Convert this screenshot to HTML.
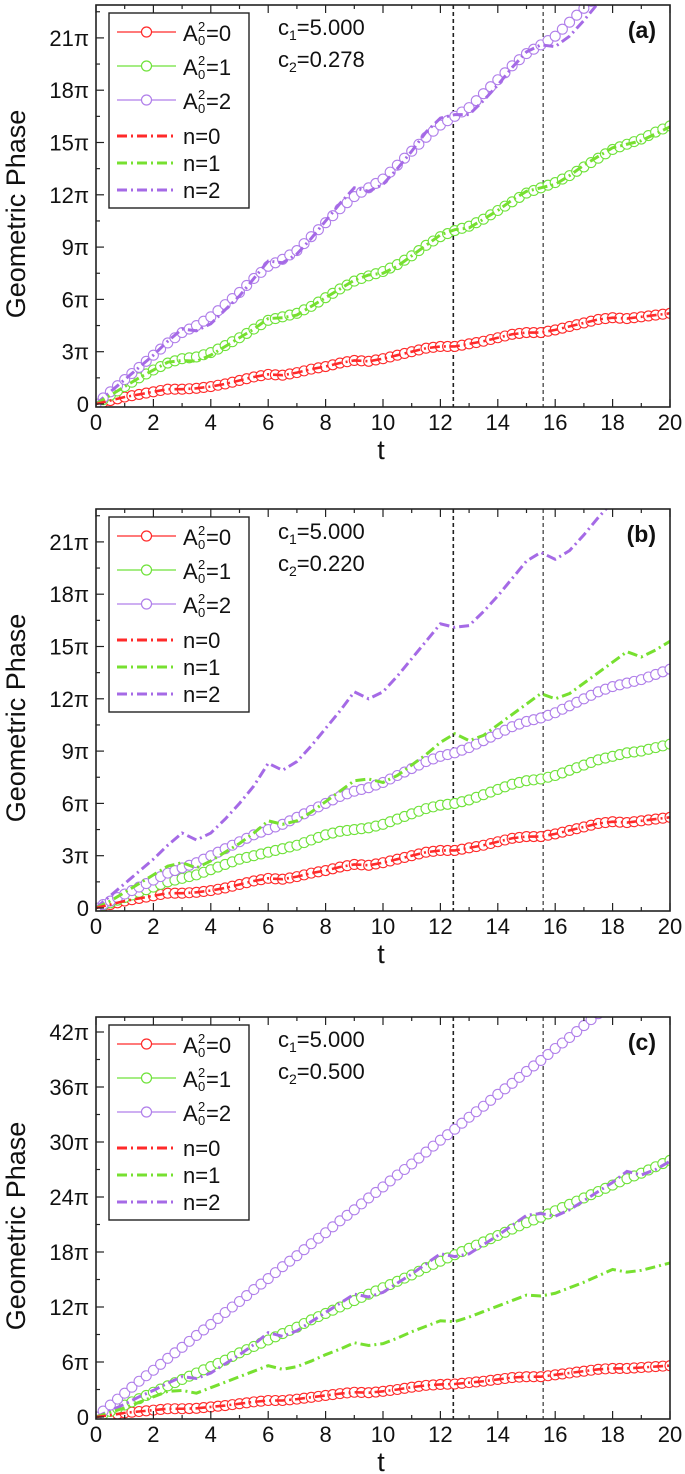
<!DOCTYPE html>
<html><head><meta charset="utf-8">
<style>
html,body{margin:0;padding:0;background:#fff;}
svg{display:block;font-family:"Liberation Sans",Arial,sans-serif;}
</style></head>
<body>
<svg id="fig" width="685" height="1474" viewBox="0 0 685 1474" xmlns="http://www.w3.org/2000/svg"></svg>
<script>
// ---- data (units of pi), sampled at t = 0, 0.5, ..., 20 ----
const tValues = [];
for (let i = 0; i <= 40; i++) tValues.push(i / 2);
const xTickLabels = ["0","2","4","6","8","10","12","14","16","18","20"];
const xTickValues = [0,2,4,6,8,10,12,14,16,18,20];
const vLines = [12.45, 15.58];

const aRed = [0,0.2,0.4,0.55,0.7,0.85,0.85,0.9,1.0,1.15,1.35,1.55,1.7,1.65,1.8,2.0,2.15,2.35,2.5,2.45,2.6,2.8,3.0,3.2,3.3,3.3,3.45,3.6,3.8,4.0,4.1,4.1,4.25,4.45,4.65,4.85,4.95,4.9,5.0,5.1,5.2];
const aA1 = [0,0.5,1.0,1.5,1.95,2.35,2.6,2.7,2.95,3.35,3.8,4.3,4.8,5.0,5.2,5.6,6.1,6.6,7.05,7.35,7.6,8.0,8.5,9.1,9.6,9.95,10.2,10.6,11.1,11.6,12.1,12.4,12.7,13.1,13.6,14.1,14.6,14.9,15.2,15.6,15.95];
const aN1 = [0,0.5,1.0,1.5,1.95,2.4,2.5,2.45,2.8,3.3,3.8,4.3,4.9,4.95,5.1,5.6,6.1,6.6,7.1,7.4,7.5,7.9,8.5,9.1,9.7,10.0,10.1,10.6,11.1,11.7,12.2,12.4,12.6,13.1,13.7,14.2,14.7,14.9,15.1,15.5,15.9];
const aA2 = [0,0.7,1.4,2.1,2.8,3.5,4.1,4.5,5.0,5.7,6.4,7.2,7.9,8.3,8.8,9.6,10.4,11.2,11.9,12.4,12.9,13.7,14.5,15.3,16.0,16.5,17.0,17.8,18.6,19.4,20.1,20.6,21.1,21.9,22.7,23.5,24.3,25.1,25.9,26.7,27.5];
const aN2 = [0,0.7,1.4,2.1,2.8,3.6,4.3,4.2,4.6,5.4,6.2,7.2,8.2,8.1,8.6,9.5,10.5,11.5,12.4,12.2,12.6,13.5,14.5,15.6,16.4,16.6,16.6,17.4,18.3,19.3,20.2,20.6,20.5,21.1,22.0,23.0,24.0,25.0,26.0,27.0,28.0];

const bRed = aRed;
const bA1 = [0,0.3,0.6,0.9,1.2,1.5,1.7,1.9,2.2,2.5,2.8,3.0,3.2,3.4,3.6,3.9,4.2,4.4,4.5,4.6,4.8,5.1,5.4,5.7,5.9,6.0,6.2,6.5,6.8,7.1,7.3,7.4,7.6,7.9,8.2,8.5,8.7,8.9,9.0,9.2,9.4];
const bN1 = [0,0.4,0.9,1.4,1.9,2.4,2.6,2.3,2.7,3.2,3.7,4.3,5.0,4.8,5.0,5.5,6.1,6.7,7.3,7.4,7.2,7.6,8.2,8.8,9.5,10.0,9.6,9.9,10.5,11.1,11.7,12.3,12.0,12.3,12.9,13.5,14.1,14.7,14.4,14.8,15.3];
const bA2 = [0,0.4,0.8,1.2,1.6,2.0,2.3,2.6,3.0,3.4,3.8,4.2,4.5,4.8,5.2,5.6,6.0,6.4,6.7,6.9,7.2,7.6,8.0,8.4,8.7,8.9,9.2,9.6,10.0,10.4,10.7,10.9,11.2,11.6,12.0,12.4,12.7,12.9,13.1,13.4,13.7];
const bN2 = [0,0.7,1.4,2.1,2.8,3.6,4.3,3.9,4.3,5.1,6.0,7.0,8.3,7.9,8.4,9.3,10.3,11.3,12.4,12.0,12.4,13.3,14.3,15.3,16.3,16.1,16.2,17.0,17.9,18.9,19.9,20.4,20.0,20.5,21.4,22.4,23.3,24.2,25.0,25.8,26.5];

const cRed = [0,0.2,0.45,0.6,0.75,0.9,0.9,0.95,1.1,1.25,1.45,1.65,1.8,1.8,1.95,2.15,2.35,2.55,2.7,2.65,2.8,3.0,3.25,3.45,3.55,3.6,3.75,3.9,4.1,4.3,4.4,4.4,4.6,4.8,5.0,5.2,5.3,5.3,5.4,5.5,5.6];
const cA1 = [0,0.6,1.3,2.0,2.7,3.4,4.1,4.8,5.5,6.2,7.0,7.7,8.4,9.1,9.8,10.6,11.3,12.0,12.7,13.4,14.1,14.8,15.5,16.3,17.0,17.7,18.4,19.1,19.8,20.5,21.2,21.8,22.5,23.2,23.9,24.6,25.3,26.0,26.6,27.3,28.0];
const cN1 = [0,0.5,1.0,1.6,2.2,2.8,2.9,2.6,3.2,3.8,4.4,5.0,5.6,5.2,5.5,6.1,6.8,7.4,8.1,7.8,8.0,8.6,9.3,9.9,10.5,10.4,10.9,11.5,12.1,12.7,13.3,13.2,13.5,14.1,14.7,15.4,16.1,15.8,16.0,16.4,16.8];
const cA2 = [0,1.3,2.6,3.9,5.1,6.4,7.6,8.9,10.1,11.4,12.6,13.9,15.1,16.4,17.6,18.9,20.1,21.4,22.6,23.9,25.1,26.4,27.6,28.9,30.2,31.4,32.7,33.9,35.2,36.4,37.7,38.9,40.2,41.4,42.7,44.0,45.2,46.5,47.7,49.0,50.2];
const cN2 = [0,0.7,1.4,2.2,2.9,3.7,4.4,4.2,4.8,5.8,6.8,7.9,9.2,8.8,9.4,10.4,11.4,12.4,13.4,13.1,13.6,14.6,15.6,16.7,17.8,17.5,17.8,18.8,19.8,20.9,22.0,22.2,21.9,22.6,23.6,24.6,25.6,26.8,26.4,27.0,27.9];

const yTicksAB = ["0","3π","6π","9π","12π","15π","18π","21π"];
const yTickValsAB = [0,3,6,9,12,15,18,21];
const yTicksC = ["0","6π","12π","18π","24π","30π","36π","42π"];
const yTickValsC = [0,6,12,18,24,30,36,42];

const NS = "http://www.w3.org/2000/svg";
const svg = document.getElementById('fig');
function mk(tag, attrs, parent){
  const e = document.createElementNS(NS, tag);
  for (const k in attrs) e.setAttribute(k, attrs[k]);
  (parent || svg).appendChild(e);
  return e;
}
const COL = {red:"#ff2a2a", green:"#77e030", purple:"#a56ae6", greenC:"#6fe23a", purpleC:"#b07fea"};

function panel(cfg){
  const L = 96, R = 670, T = cfg.top, B = cfg.top + 402;
  const y0 = cfg.zeroY, ppu = cfg.ppu;
  const X = t => L + (t / 20) * (R - L);
  const Y = v => y0 - v * ppu;
  const g = mk('g', {});
  
  
  const clipId = 'clip' + cfg.tag;
  const cp = mk('clipPath', {id: clipId}, g);
  mk('rect', {x: L, y: T, width: R - L, height: B - T}, cp);

  vLines.forEach((v, i) => {
    const ln = mk('line', {x1: X(v), x2: X(v), y1: T, y2: B, stroke: "#222", 'stroke-width': i === 0 ? 1.6 : 1.1, 'stroke-dasharray': "4,3"}, g);
    
    
  });

  const plot = mk('g', {'clip-path': 'url(#' + clipId + ')'}, g);
  function circles(vals, color, name){
    const s = mk('g', {fill: "none", stroke: color, 'stroke-width': 1.1}, plot);
    
    
    mk('polyline', {points: vals.map((v, i) => X(tValues[i]) + ',' + Y(v)).join(' ')}, s);
    for (let i = 0; i < vals.length; i++) {
      mk('circle', {cx: X(tValues[i]), cy: Y(vals[i]), r: 5, fill: "#fff"}, s);
      if (i < vals.length - 1) {
        mk('circle', {cx: (X(tValues[i]) + X(tValues[i + 1])) / 2, cy: (Y(vals[i]) + Y(vals[i + 1])) / 2, r: 5, fill: "#fff"}, s);
      }
    }
  }
  function dashdot(vals, color, name, w){
    const p = mk('polyline', {points: vals.map((v, i) => X(tValues[i]) + ',' + Y(v)).join(' '), fill: "none", stroke: color, 'stroke-width': w || 3, 'stroke-dasharray': "10,4,2,4"}, plot);
    
    
  }
  circles(cfg.A0, COL.red, 'series-a0-0');
  circles(cfg.A1, COL.greenC, 'series-a0-1');
  circles(cfg.A2, COL.purpleC, 'series-a0-2');
  dashdot(cfg.N2, COL.purple, 'series-n-2');
  dashdot(cfg.N1, COL.green, 'series-n-1');
  dashdot(cfg.N0, COL.red, 'series-n-0', 2.6);

  const fr = mk('rect', {x: L, y: T, width: R - L, height: B - T, fill: "none", stroke: "#222", 'stroke-width': 1.6}, g);
  
  

  for (let t = 0; t <= 20; t++) {
    const len = t % 2 === 0 ? 8 : 4;
    mk('line', {x1: X(t), x2: X(t), y1: B, y2: B - len, stroke: "#222", 'stroke-width': 1.2}, g);
    mk('line', {x1: X(t), x2: X(t), y1: T, y2: T + len, stroke: "#222", 'stroke-width': 1.2}, g);
  }
  xTickValues.forEach((v, i) => {
    const tx = mk('text', {x: X(v), y: B + 23, 'font-size': 22, 'text-anchor': 'middle', fill: "#111"}, g);
    tx.textContent = xTickLabels[i];
    
    
  });
  const xt = mk('text', {x: (L + R) / 2 - 2, y: B + 52, 'font-size': 27, 'text-anchor': 'middle', fill: "#111"}, g);
  xt.textContent = 't';
  
  

  const step = cfg.yVals[1] - cfg.yVals[0];
  for (let v = 0; Y(v) >= T; v += step / 2) {
    const major = Math.abs((v / step) - Math.round(v / step)) < 1e-6;
    mk('line', {x1: L, x2: L + (major ? 8 : 4), y1: Y(v), y2: Y(v), stroke: "#222", 'stroke-width': 1.2}, g);
  }
  cfg.yVals.forEach((v, i) => {
    const tx = mk('text', {x: 89, y: Y(v) + 8, 'font-size': 22, 'text-anchor': 'end', fill: "#111"}, g);
    tx.textContent = cfg.yLabels[i];
    
    
  });
  const yt = mk('text', {x: 0, y: 0, 'font-size': 27, 'text-anchor': 'middle', fill: "#111", transform: 'translate(25,' + ((T + B) / 2 + 8) + ') rotate(-90)'}, g);
  yt.textContent = 'Geometric Phase';
  
  

  const o = T - 5;
  const lg = mk('g', {}, g);
  
  
  mk('rect', {x: 109, y: o + 13, width: 140, height: 195, fill: "#fff", stroke: "#222", 'stroke-width': 1.4}, lg);
  const rows = [
    {y: 32, c: COL.red, k: 'c', v: '0'}, {y: 66, c: COL.greenC, k: 'c', v: '1'}, {y: 100, c: COL.purpleC, k: 'c', v: '2'},
    {y: 136, c: COL.red, k: 'd', v: '0'}, {y: 163, c: COL.green, k: 'd', v: '1'}, {y: 190, c: COL.purple, k: 'd', v: '2'}
  ];
  rows.forEach(r => {
    const e = mk('g', {}, lg);
    
    
    const yy = o + r.y;
    if (r.k === 'c') {
      mk('line', {x1: 117, x2: 176, y1: yy, y2: yy, stroke: r.c, 'stroke-width': 1.2}, e);
      mk('circle', {cx: 146.5, cy: yy, r: 5, fill: "#fff", stroke: r.c, 'stroke-width': 1.2}, e);
      const t1 = mk('text', {x: 183, y: yy + 9, 'font-size': 22, fill: "#111"}, e);
      t1.textContent = 'A';
      const t2 = mk('text', {x: 198, y: yy - 1, 'font-size': 13, fill: "#111"}, e);
      t2.textContent = '2';
      const t3 = mk('text', {x: 198, y: yy + 13, 'font-size': 13, fill: "#111"}, e);
      t3.textContent = '0';
      const t4 = mk('text', {x: 206, y: yy + 9, 'font-size': 22, fill: "#111"}, e);
      t4.textContent = '=' + r.v;
    } else {
      mk('line', {x1: 117, x2: 176, y1: yy, y2: yy, stroke: r.c, 'stroke-width': 3, 'stroke-dasharray': "10,4,2,4"}, e);
      const t1 = mk('text', {x: 183, y: yy + 8, 'font-size': 22, fill: "#111"}, e);
      t1.textContent = 'n=' + r.v;
    }
  });
  const p1 = mk('text', {x: 278, y: o + 35, 'font-size': 22, fill: "#111"}, g);
  p1.innerHTML = 'c<tspan font-size="14" dy="5">1</tspan><tspan dy="-5">=5.000</tspan>';
  
  
  const p2 = mk('text', {x: 278, y: o + 67, 'font-size': 22, fill: "#111"}, g);
  p2.innerHTML = 'c<tspan font-size="14" dy="5">2</tspan><tspan dy="-5">=' + cfg.c2 + '</tspan>';
  
  
  const pl = mk('text', {x: 656, y: o + 38, 'font-size': 23, 'font-weight': 'bold', 'text-anchor': 'end', fill: "#111"}, g);
  pl.textContent = '(' + cfg.tag + ')';
  
  
}

panel({tag: 'a', top: 5, zeroY: 404, ppu: 52.3 / 3, yVals: yTickValsAB, yLabels: yTicksAB, c2: '0.278',
  A0: aRed, A1: aA1, A2: aA2, N0: aRed, N1: aN1, N2: aN2});
panel({tag: 'b', top: 509, zeroY: 908, ppu: 52.3 / 3, yVals: yTickValsAB, yLabels: yTicksAB, c2: '0.220',
  A0: bRed, A1: bA1, A2: bA2, N0: bRed, N1: bN1, N2: bN2});
panel({tag: 'c', top: 1017, zeroY: 1417, ppu: 55 / 6, yVals: yTickValsC, yLabels: yTicksC, c2: '0.500',
  A0: cRed, A1: cA1, A2: cA2, N0: cRed, N1: cN1, N2: cN2});
</script>
</body></html>
